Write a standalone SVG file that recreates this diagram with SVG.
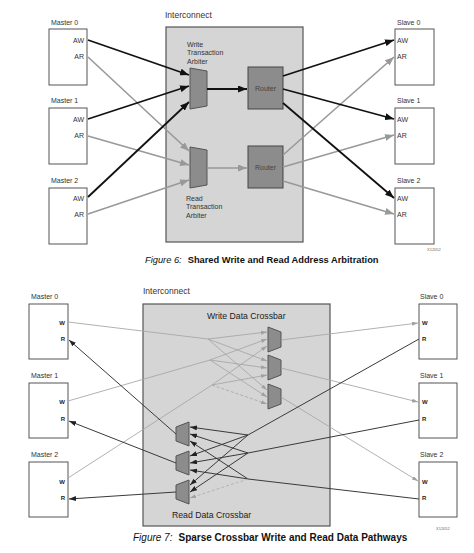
<svg xmlns="http://www.w3.org/2000/svg" width="474" height="553" viewBox="0 0 474 553">
<defs>
<marker id="ab" markerUnits="userSpaceOnUse" markerWidth="9" markerHeight="7" refX="9" refY="3.5" orient="auto"><path d="M0,0 L9,3.5 L0,7 z" fill="#111"/></marker>
<marker id="ag" markerUnits="userSpaceOnUse" markerWidth="9" markerHeight="7" refX="9" refY="3.5" orient="auto"><path d="M0,0 L9,3.5 L0,7 z" fill="#999"/></marker>
<marker id="sg" markerUnits="userSpaceOnUse" markerWidth="6" markerHeight="4" refX="6" refY="2" orient="auto"><path d="M0,0 L6,2 L0,4 z" fill="#a0a0a0"/></marker>
<marker id="sd" markerUnits="userSpaceOnUse" markerWidth="7" markerHeight="5" refX="7" refY="2.5" orient="auto"><path d="M0,0 L7,2.5 L0,5 z" fill="#222"/></marker>
</defs>
<style>
text{font-family:"Liberation Sans",Arial,sans-serif;fill:#333}
.lbl{font-size:7px}
.sm{font-size:6px;font-weight:bold;fill:#222}
.box{fill:#fff;stroke:#555;stroke-width:1}
.ic{fill:#d5d5d5;stroke:#555;stroke-width:1.2}
.mux{fill:#8c8c8c;stroke:#555;stroke-width:1}
.rt{fill:#8c8c8c;stroke:#444;stroke-width:1}
.wb{stroke:#111;stroke-width:1.8;fill:none;marker-end:url(#ab)}
.rg{stroke:#999;stroke-width:1.6;fill:none;marker-end:url(#ag)}
.wl{stroke:#a8a8a8;stroke-width:0.9;fill:none}
.wla{stroke:#a8a8a8;stroke-width:0.9;fill:none;marker-end:url(#sg)}
.wld{stroke:#a8a8a8;stroke-width:0.9;fill:none;stroke-dasharray:3,2;marker-end:url(#sg)}
.rl{stroke:#3a3a3a;stroke-width:1;fill:none}
.rla{stroke:#3a3a3a;stroke-width:1;fill:none;marker-end:url(#sd)}
.rld{stroke:#b0b0b0;stroke-width:0.9;fill:none;stroke-dasharray:3,2;marker-end:url(#sg)}
.cap{font-size:9.3px;fill:#111}
.tiny{font-size:4px;fill:#666}
</style>

<!-- ===== Figure 6 ===== -->
<g id="interconnect1">
<rect class="ic" x="166" y="27" width="137" height="215"/>
<text x="165" y="18" style="font-size:8.5px">Interconnect</text>
</g>
<g id="master0a"><text class="lbl" x="51" y="24.5">Master 0</text><rect class="box" x="49" y="29" width="38" height="56"/><text class="lbl" x="84" y="42.5" text-anchor="end">AW</text><text class="lbl" x="84" y="58.5" text-anchor="end">AR</text></g>
<g id="master1a"><text class="lbl" x="51" y="102.5">Master 1</text><rect class="box" x="49" y="108" width="38" height="56"/><text class="lbl" x="84" y="121.5" text-anchor="end">AW</text><text class="lbl" x="84" y="137.5" text-anchor="end">AR</text></g>
<g id="master2a"><text class="lbl" x="51" y="182.5">Master 2</text><rect class="box" x="49" y="188" width="38" height="56"/><text class="lbl" x="84" y="200.5" text-anchor="end">AW</text><text class="lbl" x="84" y="216.5" text-anchor="end">AR</text></g>
<g id="slave0a"><text class="lbl" x="397" y="24.5">Slave 0</text><rect class="box" x="395" y="29" width="39" height="56"/><text class="lbl" x="397" y="42.5">AW</text><text class="lbl" x="397" y="58.5">AR</text></g>
<g id="slave1a"><text class="lbl" x="397" y="102.5">Slave 1</text><rect class="box" x="395" y="108" width="39" height="56"/><text class="lbl" x="397" y="121.5">AW</text><text class="lbl" x="397" y="137.5">AR</text></g>
<g id="slave2a"><text class="lbl" x="397" y="182.5">Slave 2</text><rect class="box" x="395" y="188" width="39" height="56"/><text class="lbl" x="397" y="200.5">AW</text><text class="lbl" x="397" y="216.5">AR</text></g>
<g id="warb"><polygon class="mux" points="190,68 207,71 207,106 190,109"/><text class="lbl" x="187" y="46.5">Write</text><text class="lbl" x="187" y="55">Transaction</text><text class="lbl" x="187" y="63.5">Arbiter</text></g>
<g id="rarb"><polygon class="mux" points="190,147 207,150 207,185 190,188"/><text class="lbl" x="186" y="200.5">Read</text><text class="lbl" x="186" y="209">Transaction</text><text class="lbl" x="186" y="217.5">Arbiter</text></g>
<g id="wrouter"><rect class="rt" x="248" y="67" width="35" height="42"/><text class="lbl" x="265.5" y="90.5" text-anchor="middle" style="fill:#444">Router</text></g>
<g id="rrouter"><rect class="rt" x="248" y="146" width="35" height="42"/><text class="lbl" x="265.5" y="169.5" text-anchor="middle" style="fill:#444">Router</text></g>
<g id="connectors1">
<line class="rg" x1="88" y1="57" x2="189" y2="151"/>
<line class="rg" x1="88" y1="136" x2="189" y2="165"/>
<line class="rg" x1="88" y1="214" x2="189" y2="180"/>
<line class="rg" x1="207" y1="168" x2="247" y2="168"/>
<line class="rg" x1="283" y1="155" x2="394" y2="57"/>
<line class="rg" x1="283" y1="167" x2="394" y2="135"/>
<line class="rg" x1="283" y1="181" x2="394" y2="214"/>
<line class="wb" x1="88" y1="40" x2="189" y2="75"/>
<line class="wb" x1="88" y1="119" x2="189" y2="86"/>
<line class="wb" x1="88" y1="197" x2="189" y2="102"/>
<line class="wb" x1="207" y1="89" x2="247" y2="89"/>
<line class="wb" x1="283" y1="76" x2="394" y2="40"/>
<line class="wb" x1="283" y1="89" x2="394" y2="119"/>
<line class="wb" x1="283" y1="103" x2="394" y2="198"/>
</g>
<text class="cap" x="145" y="263"><tspan font-style="italic">Figure 6:</tspan><tspan font-weight="bold" dx="6">Shared Write and Read Address Arbitration</tspan></text>
<text class="tiny" x="427" y="251">X12052</text>

<!-- ===== Figure 7 ===== -->
<g id="interconnect2">
<rect class="ic" x="143" y="304" width="187" height="222"/>
<text x="143" y="294" style="font-size:8.5px">Interconnect</text>
<text x="207" y="319" style="font-size:8.7px;fill:#222">Write Data Crossbar</text>
<text x="172" y="518" style="font-size:8.7px;fill:#222">Read Data Crossbar</text>
</g>
<g id="master0b"><text class="lbl" x="31" y="298.5">Master 0</text><rect class="box" x="29" y="304" width="39" height="55"/><text class="sm" x="65" y="325" text-anchor="end">W</text><text class="sm" x="65" y="341" text-anchor="end">R</text></g>
<g id="master1b"><text class="lbl" x="31" y="377.5">Master 1</text><rect class="box" x="29" y="383" width="39" height="55"/><text class="sm" x="65" y="404" text-anchor="end">W</text><text class="sm" x="65" y="421" text-anchor="end">R</text></g>
<g id="master2b"><text class="lbl" x="31" y="456.5">Master 2</text><rect class="box" x="29" y="462" width="39" height="55"/><text class="sm" x="65" y="484" text-anchor="end">W</text><text class="sm" x="65" y="500" text-anchor="end">R</text></g>
<g id="slave0b"><text class="lbl" x="420" y="298.5">Slave 0</text><rect class="box" x="419" y="304" width="38" height="55"/><text class="sm" x="422" y="325">W</text><text class="sm" x="422" y="341">R</text></g>
<g id="slave1b"><text class="lbl" x="420" y="377.5">Slave 1</text><rect class="box" x="419" y="383" width="38" height="55"/><text class="sm" x="422" y="404">W</text><text class="sm" x="422" y="421">R</text></g>
<g id="slave2b"><text class="lbl" x="420" y="456.5">Slave 2</text><rect class="box" x="419" y="462" width="38" height="55"/><text class="sm" x="422" y="484">W</text><text class="sm" x="422" y="500">R</text></g>
<g id="wmux0"><polygon class="mux" points="268,327 281,332 281,347 268,352"/></g>
<g id="wmux1"><polygon class="mux" points="268,355 281,360 281,375 268,380"/></g>
<g id="wmux2"><polygon class="mux" points="268,384 281,389 281,404 268,409"/></g>
<g id="rmux0"><polygon class="mux" points="189,422 189,446 176,441 176,427"/></g>
<g id="rmux1"><polygon class="mux" points="189,451 189,475 176,470 176,456"/></g>
<g id="rmux2"><polygon class="mux" points="189,480 189,504 176,499 176,485"/></g>
<g id="connectors2">
<polyline class="wl" points="68,322 208,339"/>
<polyline class="wl" points="68,401 210,360"/>
<polyline class="wl" points="68,478 212,385"/>
<line class="wla" x1="208" y1="339" x2="267" y2="332"/>
<line class="wla" x1="208" y1="339" x2="267" y2="361"/>
<line class="wla" x1="208" y1="339" x2="267" y2="390"/>
<line class="wla" x1="210" y1="360" x2="267" y2="339"/>
<line class="wla" x1="210" y1="360" x2="267" y2="368"/>
<line class="wla" x1="210" y1="360" x2="267" y2="397"/>
<line class="wla" x1="212" y1="385" x2="267" y2="346"/>
<line class="wla" x1="212" y1="385" x2="267" y2="375"/>
<line class="wld" x1="212" y1="385" x2="267" y2="404"/>
<line class="wla" x1="281" y1="340" x2="418" y2="323"/>
<line class="wla" x1="281" y1="368" x2="418" y2="402"/>
<line class="wla" x1="281" y1="397" x2="418" y2="481"/>
<polyline class="rl" points="419,339 248,435"/>
<polyline class="rl" points="419,420 248,453"/>
<polyline class="rl" points="419,499 248,479"/>
<line class="rla" x1="248" y1="435" x2="190" y2="427"/>
<line class="rla" x1="248" y1="435" x2="190" y2="456"/>
<line class="rla" x1="248" y1="435" x2="190" y2="485"/>
<line class="rla" x1="248" y1="453" x2="190" y2="434"/>
<line class="rla" x1="248" y1="453" x2="190" y2="463"/>
<line class="rla" x1="248" y1="453" x2="190" y2="492"/>
<line class="rla" x1="248" y1="479" x2="190" y2="441"/>
<line class="rla" x1="248" y1="479" x2="190" y2="470"/>
<line class="rld" x1="248" y1="479" x2="190" y2="498"/>
<line class="rla" x1="176" y1="434" x2="69" y2="340"/>
<line class="rla" x1="176" y1="463" x2="69" y2="421"/>
<line class="rla" x1="176" y1="492" x2="69" y2="499"/>
</g>
<text class="cap" x="133" y="541" style="font-size:10px"><tspan font-style="italic">Figure 7:</tspan><tspan font-weight="bold" dx="6">Sparse Crossbar Write and Read Data Pathways</tspan></text>
<text class="tiny" x="436" y="530">X12052</text>
</svg>
